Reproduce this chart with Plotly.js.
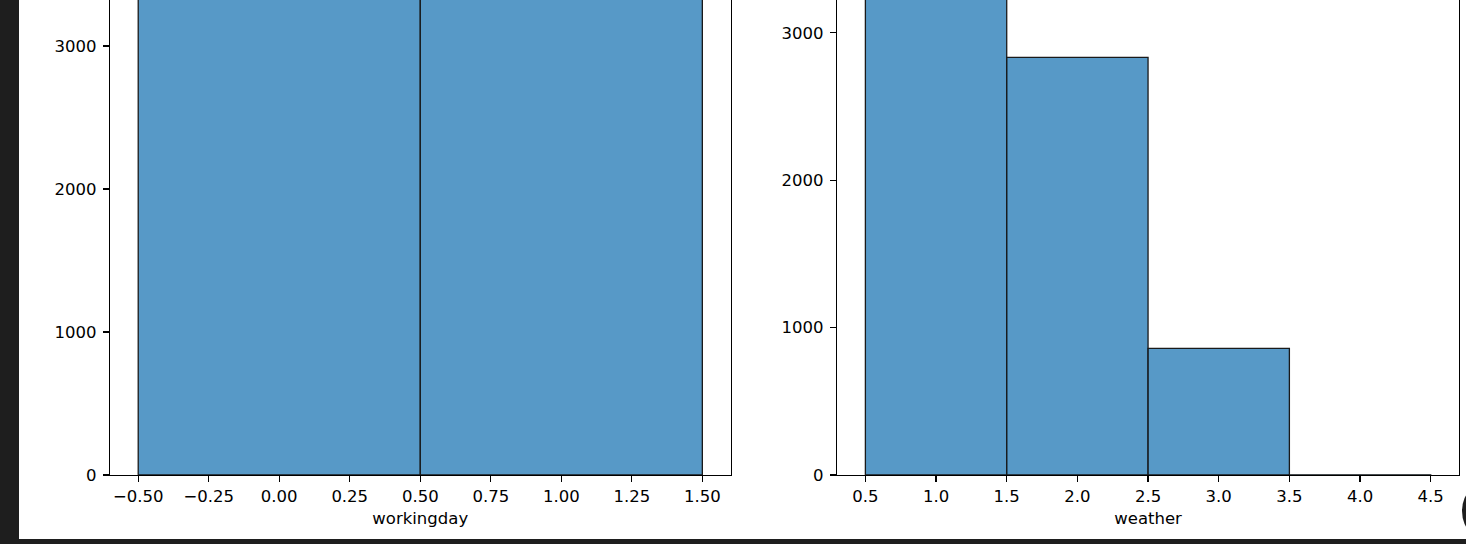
<!DOCTYPE html>
<html>
<head>
<meta charset="utf-8">
<script src="https://cdn.plot.ly/plotly-3.0.1.min.js"></script>
<style>
  html, body { margin: 0; padding: 0; background: #1e1e1e; width: 1466px; height: 544px; overflow: hidden; }
  #frame { position: absolute; left: 19px; top: 0; width: 1447px; height: 539px; background: #fff; overflow: hidden; }
  #chart { position: absolute; left: 0; top: 0; width: 1447px; height: 539px; }
  #knob { position: absolute; left: 1462px; top: 477px; width: 68px; height: 68px; border-radius: 50%; background: #1e1e1e; }
</style>
</head>
<body>
<div id="frame"><div id="chart"></div></div>
<div id="knob"></div>
<script>
// workingday histogram (discrete bins of width 1)
const workingdayCats = [0, 1];
const workingdayCounts = [3474, 7412];
// weather histogram (discrete bins of width 1)
const weatherCats = [1, 2, 3, 4];
const weatherCounts = [7192, 2834, 859, 1];
const xTitles = ['workingday', 'weather'];

// the reference is a crop: only the lower part of each axes is visible
const VISIBLE_FRACTION = 475 / 1113;

const FILL = 'rgba(31,119,180,0.75)';
const EDGE = '#1a1a1a';
const FONT = { family: 'DejaVu Sans, sans-serif', size: 16.5, color: '#000' };

function barTrace(cats, counts, xa, ya) {
  return {
    type: 'bar', x: cats, y: counts, width: cats.map(() => 1),
    xaxis: xa, yaxis: ya,
    marker: { color: FILL, line: { color: EDGE, width: 1.3 } },
    hoverinfo: 'x+y', showlegend: false
  };
}

function xRange(cats) {
  const lo = Math.min(...cats) - 0.5, hi = Math.max(...cats) + 0.5;
  const m = (hi - lo) * 0.05;
  return [lo - m, hi + m];
}

function xAxis(domain, cats, fmt, dtick, title, anchor) {
  return {
    anchor: anchor, domain: domain, range: xRange(cats), tick0: Math.min(...cats) - 0.5, dtick: dtick,
    tickformat: fmt, ticks: 'outside', ticklen: 6, tickwidth: 1.2, tickcolor: '#000',
    showline: true, linecolor: '#000', linewidth: 1.3, mirror: false,
    showgrid: false, zeroline: false, tickfont: FONT, ticklabelstandoff: 0,
    title: { text: title, font: FONT, standoff: 7 }
  };
}

function yAxis(counts, anchor) {
  return {
    anchor: anchor, range: [0, Math.max(...counts) * 1.05 * VISIBLE_FRACTION], dtick: 1000, tickformat: 'd',
    ticks: 'outside', ticklen: 6, tickwidth: 1.2, tickcolor: '#000',
    showline: true, linecolor: '#000', linewidth: 1.3, mirror: true,
    showgrid: false, zeroline: false, tickfont: FONT, ticklabelstandoff: 3
  };
}

const data = [
  barTrace(workingdayCats, workingdayCounts, 'x', 'y'),
  barTrace(weatherCats, weatherCounts, 'x2', 'y2')
];

const layout = {
  width: 1447, height: 539,
  margin: { l: 91, r: 7, t: 0, b: 64 },
  paper_bgcolor: '#fff', plot_bgcolor: '#fff',
  bargap: 0,
  xaxis: xAxis([0, 0.46], workingdayCats, '.2f', 0.25, xTitles[0], 'y'),
  yaxis: yAxis(workingdayCounts, 'x'),
  xaxis2: xAxis([0.539, 1], weatherCats, '.1f', 0.5, xTitles[1], 'y2'),
  yaxis2: yAxis(weatherCounts, 'x2'),
  font: FONT
};

Plotly.newPlot('chart', data, layout, { displayModeBar: false, staticPlot: true });
</script>
</body>
</html>
